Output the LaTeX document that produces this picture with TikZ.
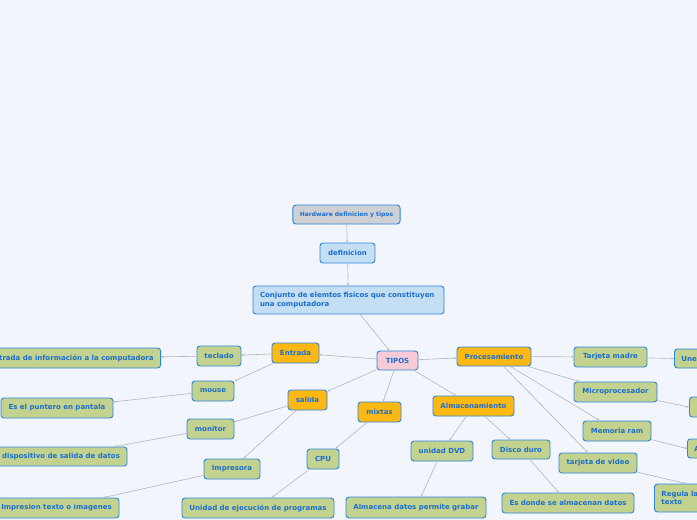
\documentclass[tikz,border=0pt]{standalone}
\usepackage{fontspec}
\setmainfont{DejaVu Sans}
\usetikzlibrary{arrows.meta}
\definecolor{fondo}{HTML}{F3F5FD}
\definecolor{borde}{HTML}{2A86DE}
\definecolor{texto}{HTML}{1B6FCF}
\definecolor{linea}{HTML}{B4B6BC}
\definecolor{gris}{HTML}{CFD0D4}
\definecolor{azul}{HTML}{C4DEF4}
\definecolor{rosa}{HTML}{F8C9D6}
\definecolor{naranja}{HTML}{FDB814}
\definecolor{verde}{HTML}{C3D28E}
\begin{document}
\begin{tikzpicture}[x=1pt, y=-1pt,
   every node/.style={draw=borde, rounded corners=3pt, line width=0.9pt, text=texto,
       font=\bfseries\fontsize{7}{8.5}\selectfont, minimum height=20pt, inner xsep=7pt, inner ysep=2pt},
   raiz/.style={fill=gris, font=\bfseries\fontsize{6}{7}\selectfont},
   tema/.style={fill=azul},
   centro/.style={fill=rosa},
   tipo/.style={fill=naranja},
   item/.style={fill=verde},
   enlace/.style={draw=linea, line width=0.6pt, -{Stealth[length=2.5pt,width=2.2pt]}}]

\fill[fondo] (0,0) rectangle (697,520);
\useasboundingbox (0,0) rectangle (697,520);
\clip (0,0) rectangle (697,520);

% raiz y definicion
\node[raiz, minimum width=107pt, minimum height=19pt] (hw) at (346.5,214.5) {Hardware definicion y tipos};
\node[tema, minimum width=55pt] (def) at (347.5,253) {definicion};
\node[tema, minimum height=28pt, text width=177pt, align=left] (conj) at (348.5,300)
    {Conjunto de elemtos fisicos que constituyen\\una computadora};
\node[centro, minimum width=41pt, minimum height=19pt] (tipos) at (397.5,360.5) {TIPOS};

% tipos
\node[tipo, minimum width=47pt] (entrada) at (295.5,353) {Entrada};
\node[tipo, minimum width=74pt, minimum height=19pt] (proc) at (494,356.5) {Procesamiento};
\node[tipo, minimum width=39pt] (salida) at (307.5,400) {salida};
\node[tipo, minimum width=43pt] (mixtas) at (379.5,412) {mixtas};
\node[tipo, minimum width=81pt] (alm) at (473.5,406) {Almacenamiento};

% dispositivos
\node[item, minimum width=44pt] (teclado) at (219,356) {teclado};
\node[item, minimum width=42pt] (mouse) at (213,391) {mouse};
\node[item, minimum width=47pt] (monitor) at (210.5,429) {monitor};
\node[item, minimum width=56pt] (impresora) at (232,469) {Impresora};
\node[item, minimum width=32pt] (cpu) at (323,459) {CPU};
\node[item, minimum width=62pt] (dvd) at (442,451) {unidad DVD};
\node[item, minimum width=58pt, minimum height=19pt] (disco) at (521,449.5) {Disco duro};
\node[item, minimum width=73pt] (madre) at (610.5,357) {Tarjeta madre};
\node[item, minimum width=83pt] (micro) at (615.5,392) {Microprocesador};
\node[item, minimum width=68pt] (ram) at (617,431) {Memoria ram};
\node[item, minimum width=78pt] (video) at (598,463) {tarjeta de video};

% descripciones
\node[item, minimum width=177pt] (infoent) at (71.5,358) {Entrada de información a la computadora};
\node[item, minimum width=112pt] (puntero) at (57,408) {Es el puntero en pantala};
\node[item, minimum width=132pt, minimum height=19pt] (dispo) at (61,456.5) {dispositivo de salida de datos};
\node[item, minimum width=125pt] (imptxt) at (56.5,508) {Impresion texto o imagenes};
\node[item, minimum width=152pt] (ejec) at (258,508) {Unidad de ejecución de programas};
\node[item, minimum width=140pt, minimum height=21pt] (grabar) at (416,507.5) {Almacena datos permite grabar};
\node[item, minimum width=132pt] (donde) at (568,503) {Es donde se almacenan datos};
\node[item, anchor=west, minimum height=19pt, text width=66pt, align=left] (une) at (674,358.5) {Une};
\node[item, anchor=west, text width=50pt] (microder) at (689,407) {};
\node[item, anchor=west, minimum height=19pt, text width=50pt, align=left] (aram) at (687,448.5) {A};
\node[item, anchor=west, minimum height=28pt, text width=60pt, align=left] (regula) at (654,498) {Regula la\\texto};

% enlaces
\draw[enlace] (hw) -- (def);
\draw[enlace] (def) -- (conj);
\draw[enlace] (conj) -- (tipos);
\draw[enlace] (tipos) -- (entrada);
\draw[enlace] (tipos) -- (proc);
\draw[enlace] (tipos) -- (salida);
\draw[enlace] (tipos) -- (mixtas);
\draw[enlace] (tipos) -- (alm);
\draw[enlace] (entrada) -- (teclado);
\draw[enlace] (entrada) -- (mouse);
\draw[enlace] (teclado) -- (infoent);
\draw[enlace] (mouse) -- (puntero);
\draw[enlace] (salida) -- (monitor);
\draw[enlace] (salida) -- (impresora);
\draw[enlace] (monitor) -- (dispo);
\draw[enlace] (impresora) -- (imptxt);
\draw[enlace] (mixtas) -- (cpu);
\draw[enlace] (cpu) -- (ejec);
\draw[enlace] (alm) -- (dvd);
\draw[enlace] (alm) -- (disco);
\draw[enlace] (dvd) -- (grabar);
\draw[enlace] (disco) -- (donde);
\draw[enlace] (proc) -- (madre);
\draw[enlace] (proc) -- (micro);
\draw[enlace] (proc) -- (ram);
\draw[enlace] (proc) -- (video);
\draw[enlace] (madre) -- (une.west);
\draw[enlace] (micro) -- (microder.west);
\draw[enlace] (ram) -- (aram.west);
\draw[enlace] (video) -- ([xshift=32pt]regula.north west);

\end{tikzpicture}
\end{document}
